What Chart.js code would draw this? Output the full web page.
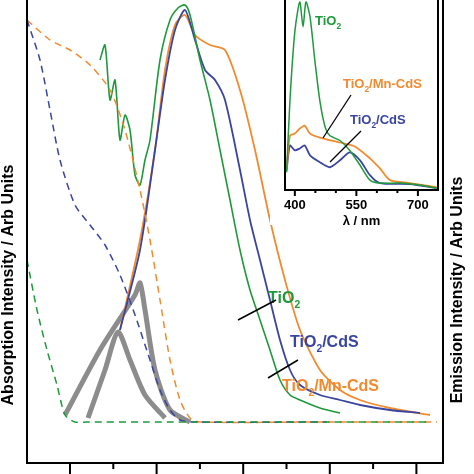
<!DOCTYPE html>
<html><head><meta charset="utf-8">
<script src="https://cdn.jsdelivr.net/npm/chart.js@4"></script>
<style>
body{margin:0;background:#fff}
#wrap{position:relative;width:474px;height:474px}
#main{position:absolute;left:0;top:0}
#inset{position:absolute;left:270px;top:0;background:#fff}
</style></head><body>
<div id="wrap"><canvas id="main" width="474" height="474"></canvas><canvas id="inset" width="172" height="225"></canvas></div>
<script>
// main panel, arbitrary units (x 0..416, y 0..463)
const greenDashX = [0,10,20,30,38,48,60,120,200,300,403];
const greenDashY = [203,153,113,78,48,41,41,41,41,41,41];
const blueDashX = [0,13,23,33,48,63,78,93,108,123,133,143,153,168,300];
const blueDashY = [443,403,353,303,258,238,218,188,148,103,73,53,43,41,41];
const orangeDashX = [0,23,43,63,83,98,113,123,133,143,153,163,173,300,410];
const orangeDashY = [443,423,413,398,373,333,273,223,163,103,63,45,41,41,41];
const grey1X = [38,73,108,113,118,128,143,163];
const grey1Y = [48,113,168,180,153,93,53,41];
const grey2X = [61,78,91,103,118,138];
const grey2Y = [45,93,131,103,68,45];
const tio2X = [73,78,83,88,93,98,103,108,113,118,123,133,143,151,158,163,173,183,193,203,213,223,233,243,253,263,273,293,313];
const tio2Y = [403,418,363,383,323,348,333,288,278,303,323,403,443,455,458,448,403,363,313,263,213,173,143,113,83,68,63,55,50];
const cdsX = [93,113,128,138,148,158,168,178,188,198,213,223,233,243,253,263,273,293,313,333,363,393];
const cdsY = [133,213,313,383,433,453,423,393,383,363,293,243,203,163,123,93,78,68,63,58,53,50];
const mnX = [93,113,128,138,148,158,168,183,198,213,228,243,258,273,293,313,333,363,403];
const mnY = [133,223,313,393,438,448,428,418,413,373,313,243,183,133,93,73,63,55,48];
// inset, wavelength in nm
const inGreenX = [380,388,400,412,420,427,437,449,461,473,485,510,534,559,583,607,656,705,746];
const inGreenY = [18,90,160,190,165,190,175,130,90,65,55,50,40,25,10,7,7,5,2];
const inMnX = [380,388,400,412,424,437,461,510,546,583,607,632,680,746];
const inMnY = [20,55,57,62,65,57,53,48,44,32,22,10,7,3];
const inCdsX = [380,388,400,412,424,437,461,485,510,534,559,583,607,680,746];
const inCdsY = [20,45,40,42,45,35,28,23,30,38,30,15,7,6,2];
const insetTicks = [400,550,700];

const GREEN = '#1e9a3c', BLUE = '#3a45a0', ORANGE = '#f28a2e', GREY = '#8c8c8c';
const pts = (xs, ys) => xs.map((x, i) => ({x, y: ys[i]}));
const ds = (xs, ys, color, w, dash) => ({data: pts(xs, ys), borderColor: color, borderWidth: w,
  borderDash: dash || [], pointRadius: 0, tension: 0.25, fill: false});

function subText(ctx, x, y, parts, size, color) {
  // parts: [text, isSub]
  ctx.fillStyle = color;
  parts.forEach(([t, sub]) => {
    ctx.font = 'bold ' + (sub ? size * 0.65 : size) + 'px "Liberation Sans"';
    ctx.fillText(t, x, y + (sub ? size * 0.3 : 0));
    x += ctx.measureText(t).width;
  });
}
function line(ctx, x1, y1, x2, y2) {
  ctx.beginPath(); ctx.moveTo(x1, y1); ctx.lineTo(x2, y2); ctx.stroke();
}

const mainDeco = {
  id: 'mainDeco',
  afterDraw(c) {
    const ctx = c.ctx, a = c.chartArea;
    ctx.save();
    ctx.strokeStyle = '#000'; ctx.lineWidth = 2;
    ctx.strokeRect(a.left, a.top - 2, a.right - a.left, a.bottom - a.top + 2);
    const xs = c.scales.x;
    for (let v = 43; v <= 416; v += 43.3) {
      const k = Math.round((v - 43) / 43.3);
      const px = xs.getPixelForValue(v);
      line(ctx, px, a.bottom, px, a.bottom + (k % 2 === 0 ? 12 : 6));
    }
    ctx.font = 'bold 16px "Liberation Sans"'; ctx.fillStyle = '#000'; ctx.textAlign = 'center';
    ctx.save(); ctx.translate(13, 285); ctx.rotate(-Math.PI / 2);
    ctx.fillText('Absorption Intensity / Arb Units', 0, 0); ctx.restore();
    ctx.save(); ctx.translate(462, 290); ctx.rotate(-Math.PI / 2);
    ctx.fillText('Emission Intensity / Arb Units', 0, 0); ctx.restore();
    ctx.textAlign = 'left';
    subText(ctx, 268, 303, [['TiO', 0], ['2', 1]], 16, GREEN);
    subText(ctx, 290, 347, [['TiO', 0], ['2', 1], ['/CdS', 0]], 16, BLUE);
    subText(ctx, 282, 391, [['TiO', 0], ['2', 1], ['/Mn-CdS', 0]], 16, ORANGE);
    ctx.lineWidth = 1.5;
    line(ctx, 238, 320, 276, 300);
    line(ctx, 268, 378, 298, 360);
    ctx.restore();
  }
};

new Chart(document.getElementById('main'), {
  type: 'line',
  data: {datasets: [
    ds(greenDashX, greenDashY, GREEN, 1.5, [7, 5]),
    ds(blueDashX, blueDashY, BLUE, 1.5, [7, 5]),
    ds(orangeDashX, orangeDashY, ORANGE, 1.5, [7, 5]),
    ds(tio2X, tio2Y, GREEN, 1.6),
    ds(cdsX, cdsY, BLUE, 1.8),
    ds(mnX, mnY, ORANGE, 1.8),
    ds(grey1X, grey1Y, GREY, 5),
    ds(grey2X, grey2Y, GREY, 5)
  ]},
  options: {
    responsive: false, animation: false,
    layout: {padding: {left: 27, right: 31, top: 0, bottom: 11}},
    plugins: {legend: {display: false}, tooltip: {enabled: false}},
    scales: {
      x: {type: 'linear', min: 0, max: 416, display: false},
      y: {min: 0, max: 463, display: false}
    }
  },
  plugins: [mainDeco]
});

const insetDeco = {
  id: 'insetDeco',
  afterDraw(c) {
    const ctx = c.ctx, a = c.chartArea;
    ctx.save();
    ctx.strokeStyle = '#000'; ctx.lineWidth = 2;
    ctx.strokeRect(a.left, a.top - 2, a.right - a.left, a.bottom - a.top + 2);
    const xs = c.scales.x;
    for (let v = 400; v <= 740; v += 50) {
      const px = xs.getPixelForValue(v);
      line(ctx, px, a.bottom, px, a.bottom + (insetTicks.includes(v) ? 6 : 3));
    }
    ctx.fillStyle = '#000'; ctx.font = 'bold 13px "Liberation Sans"'; ctx.textAlign = 'center';
    insetTicks.forEach(v => ctx.fillText(v, xs.getPixelForValue(v), a.bottom + 19));
    ctx.fillText('\u03bb / nm', (a.left + a.right) / 2, a.bottom + 35);
    ctx.textAlign = 'left';
    subText(ctx, 45, 25, [['TiO', 0], ['2', 1]], 13, GREEN);
    subText(ctx, 73, 88, [['TiO', 0], ['2', 1], ['/Mn-CdS', 0]], 13, ORANGE);
    subText(ctx, 80, 124, [['TiO', 0], ['2', 1], ['/CdS', 0]], 13, BLUE);
    ctx.lineWidth = 1.3;
    line(ctx, 53, 138, 81, 95);
    line(ctx, 60, 162, 91, 131);
    ctx.restore();
  }
};

new Chart(document.getElementById('inset'), {
  type: 'line',
  data: {datasets: [
    ds(inGreenX, inGreenY, GREEN, 1.5),
    ds(inMnX, inMnY, ORANGE, 1.8),
    ds(inCdsX, inCdsY, BLUE, 1.8)
  ]},
  options: {
    responsive: false, animation: false,
    layout: {padding: {left: 15, right: 4, top: 0, bottom: 35}},
    plugins: {legend: {display: false}, tooltip: {enabled: false}},
    scales: {
      x: {type: 'linear', min: 376, max: 749, display: false},
      y: {min: 0, max: 192, display: false}
    }
  },
  plugins: [insetDeco]
});
</script></body></html>
